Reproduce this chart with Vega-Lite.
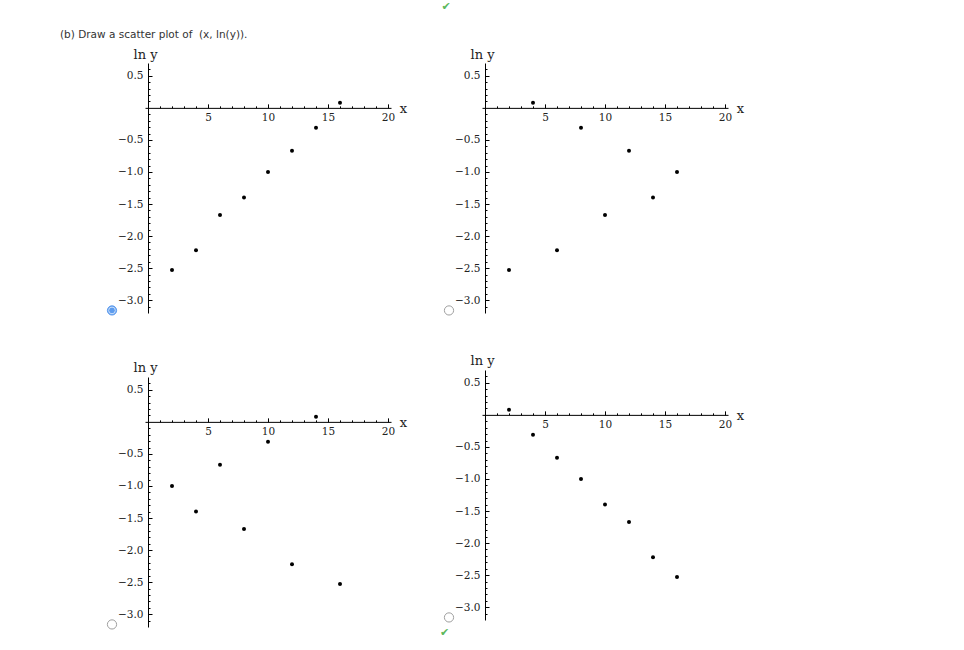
{
  "$schema": "https://vega.github.io/schema/vega-lite/v6.json",
  "background": "white",
  "padding": {"left": 60, "top": 0, "right": 5, "bottom": 5},
  "datasets": {
    "p1": [{"x": 2, "lny": -2.53}, {"x": 4, "lny": -2.22}, {"x": 6, "lny": -1.67}, {"x": 8, "lny": -1.40}, {"x": 10, "lny": -1.00}, {"x": 12, "lny": -0.67}, {"x": 14, "lny": -0.31}, {"x": 16, "lny": 0.08}],
    "p2": [{"x": 2, "lny": -2.53}, {"x": 4, "lny": 0.08}, {"x": 6, "lny": -2.22}, {"x": 8, "lny": -0.31}, {"x": 10, "lny": -1.67}, {"x": 12, "lny": -0.67}, {"x": 14, "lny": -1.40}, {"x": 16, "lny": -1.00}],
    "p3": [{"x": 2, "lny": -1.00}, {"x": 4, "lny": -1.40}, {"x": 6, "lny": -0.67}, {"x": 8, "lny": -1.67}, {"x": 10, "lny": -0.31}, {"x": 12, "lny": -2.22}, {"x": 14, "lny": 0.08}, {"x": 16, "lny": -2.53}],
    "p4": [{"x": 2, "lny": 0.08}, {"x": 4, "lny": -0.31}, {"x": 6, "lny": -0.67}, {"x": 8, "lny": -1.00}, {"x": 10, "lny": -1.40}, {"x": 12, "lny": -1.67}, {"x": 14, "lny": -2.22}, {"x": 16, "lny": -2.53}],
    "one": [{"item": "option"}]
  },
  "columns": 2,
  "bounds": "flush",
  "spacing": {"row": 57, "column": 91},
  "concat": [
    {
      "width": 246, "height": 250,
      "title": {"text": "(b) Draw a scatter plot of\u00a0\u00a0(x, ln(y)).", "anchor": "start", "frame": "group", "dx": -85, "offset": 8, "font": "DejaVu Sans", "fontSize": 10.5, "fontWeight": "normal", "color": "#333"},
      "layer": [
        {
          "data": {"name": "p1"},
          "mark": {"type": "circle", "size": 16, "color": "black", "opacity": 1},
          "encoding": {
            "x": {"field": "x", "type": "quantitative", "scale": {"domain": [-0.25, 20.25], "nice": false, "zero": false},
              "axis": {"orient": "bottom", "offset": -205.13, "tickCount": 100, "labelOverlap": false, "labelFlush": false, "values": [1,2,3,4,5,6,7,8,9,10,11,12,13,14,15,16,17,18,19,20], "labelExpr": "datum.value % 5 === 0 ? datum.value : ''", "tickSize": {"condition": {"test": "datum.value % 5 === 0", "value": -4}, "value": -2}, "labelPadding": 9, "title": "x", "titleAngle": 0, "titleX": 258, "titleY": 1, "titleAlign": "center", "titleBaseline": "middle"}},
            "y": {"field": "lny", "type": "quantitative", "scale": {"domain": [-3.2, 0.7], "nice": false, "zero": false},
              "axis": {"orient": "left", "offset": -3, "tickCount": 100, "labelOverlap": false, "labelFlush": false, "values": [-3.1,-3,-2.9,-2.8,-2.7,-2.6,-2.5,-2.4,-2.3,-2.2,-2.1,-2,-1.9,-1.8,-1.7,-1.6,-1.5,-1.4,-1.3,-1.2,-1.1,-1,-0.9,-0.8,-0.7,-0.6,-0.5,-0.4,-0.3,-0.2,-0.1,0.1,0.2,0.3,0.4,0.5,0.6], "labelExpr": "abs(datum.value*2 - round(datum.value*2)) < 0.001 ? (datum.value < 0 ? '−' : '') + format(abs(datum.value), '.1f') : ''", "tickSize": {"condition": {"test": "abs(datum.value*2 - round(datum.value*2)) < 0.001", "value": -4}, "value": -2}, "labelPadding": 9, "title": "ln y", "titleAngle": 0, "titleX": -3, "titleY": -5, "titleAlign": "center", "titleBaseline": "alphabetic"}}
          }
        },
        {
          "data": {"name": "one"},
          "mark": {"type": "point", "shape": "circle", "size": 85, "filled": true, "fill": "#1a73e8", "stroke": "#1a73e8", "strokeWidth": 1},
          "encoding": {"x": {"datum": -3}, "y": {"datum": -3.16}}
        },
        {
          "data": {"name": "one"},
          "mark": {"type": "point", "shape": "circle", "size": 45, "filled": false, "stroke": "white", "strokeWidth": 1},
          "encoding": {"x": {"datum": -3}, "y": {"datum": -3.16}}
        }
      ]
    },
    {
      "width": 246, "height": 250,
      "layer": [
        {
          "data": {"name": "p2"},
          "mark": {"type": "circle", "size": 16, "color": "black", "opacity": 1},
          "encoding": {
            "x": {"field": "x", "type": "quantitative", "scale": {"domain": [-0.25, 20.25], "nice": false, "zero": false},
              "axis": {"orient": "bottom", "offset": -205.13, "tickCount": 100, "labelOverlap": false, "labelFlush": false, "values": [1,2,3,4,5,6,7,8,9,10,11,12,13,14,15,16,17,18,19,20], "labelExpr": "datum.value % 5 === 0 ? datum.value : ''", "tickSize": {"condition": {"test": "datum.value % 5 === 0", "value": -4}, "value": -2}, "labelPadding": 9, "title": "x", "titleAngle": 0, "titleX": 258, "titleY": 1, "titleAlign": "center", "titleBaseline": "middle"}},
            "y": {"field": "lny", "type": "quantitative", "scale": {"domain": [-3.2, 0.7], "nice": false, "zero": false},
              "axis": {"orient": "left", "offset": -3, "tickCount": 100, "labelOverlap": false, "labelFlush": false, "values": [-3.1,-3,-2.9,-2.8,-2.7,-2.6,-2.5,-2.4,-2.3,-2.2,-2.1,-2,-1.9,-1.8,-1.7,-1.6,-1.5,-1.4,-1.3,-1.2,-1.1,-1,-0.9,-0.8,-0.7,-0.6,-0.5,-0.4,-0.3,-0.2,-0.1,0.1,0.2,0.3,0.4,0.5,0.6], "labelExpr": "abs(datum.value*2 - round(datum.value*2)) < 0.001 ? (datum.value < 0 ? '−' : '') + format(abs(datum.value), '.1f') : ''", "tickSize": {"condition": {"test": "abs(datum.value*2 - round(datum.value*2)) < 0.001", "value": -4}, "value": -2}, "labelPadding": 9, "title": "ln y", "titleAngle": 0, "titleX": -3, "titleY": -5, "titleAlign": "center", "titleBaseline": "alphabetic"}}
          }
        },
        {
          "data": {"name": "one"},
          "mark": {"type": "point", "shape": "circle", "size": 85, "filled": false, "fill": "white", "stroke": "#777", "strokeWidth": 1},
          "encoding": {"x": {"datum": -3}, "y": {"datum": -3.16}}
        },
        {
          "data": {"name": "one"},
          "mark": {"type": "text", "text": "✔", "font": "DejaVu Sans", "fontSize": 11, "color": "#5cb85c", "baseline": "middle", "align": "center"},
          "encoding": {"x": {"datum": -3.25}, "y": {"datum": 1.58}}
        }
      ]
    },
    {
      "width": 246, "height": 257,
      "layer": [
        {
          "data": {"name": "p3"},
          "mark": {"type": "circle", "size": 16, "color": "black", "opacity": 1},
          "encoding": {
            "x": {"field": "x", "type": "quantitative", "scale": {"domain": [-0.25, 20.25], "nice": false, "zero": false},
              "axis": {"orient": "bottom", "offset": -205.13, "tickCount": 100, "labelOverlap": false, "labelFlush": false, "values": [1,2,3,4,5,6,7,8,9,10,11,12,13,14,15,16,17,18,19,20], "labelExpr": "datum.value % 5 === 0 ? datum.value : ''", "tickSize": {"condition": {"test": "datum.value % 5 === 0", "value": -4}, "value": -2}, "labelPadding": 9, "title": "x", "titleAngle": 0, "titleX": 258, "titleY": 1, "titleAlign": "center", "titleBaseline": "middle"}},
            "y": {"field": "lny", "type": "quantitative", "scale": {"domain": [-3.2, 0.7], "nice": false, "zero": false, "range": [257, 7]},
              "axis": {"orient": "left", "offset": -3, "tickCount": 100, "labelOverlap": false, "labelFlush": false, "values": [-3.1,-3,-2.9,-2.8,-2.7,-2.6,-2.5,-2.4,-2.3,-2.2,-2.1,-2,-1.9,-1.8,-1.7,-1.6,-1.5,-1.4,-1.3,-1.2,-1.1,-1,-0.9,-0.8,-0.7,-0.6,-0.5,-0.4,-0.3,-0.2,-0.1,0.1,0.2,0.3,0.4,0.5,0.6], "labelExpr": "abs(datum.value*2 - round(datum.value*2)) < 0.001 ? (datum.value < 0 ? '−' : '') + format(abs(datum.value), '.1f') : ''", "tickSize": {"condition": {"test": "abs(datum.value*2 - round(datum.value*2)) < 0.001", "value": -4}, "value": -2}, "labelPadding": 9, "title": "ln y", "titleAngle": 0, "titleX": -3, "titleY": 1, "titleAlign": "center", "titleBaseline": "alphabetic"}}
          }
        },
        {
          "data": {"name": "one"},
          "mark": {"type": "point", "shape": "circle", "size": 85, "filled": false, "fill": "white", "stroke": "#777", "strokeWidth": 1},
          "encoding": {"x": {"datum": -3}, "y": {"datum": -3.16}}
        }
      ]
    },
    {
      "width": 246, "height": 257,
      "layer": [
        {
          "data": {"name": "p4"},
          "mark": {"type": "circle", "size": 16, "color": "black", "opacity": 1},
          "encoding": {
            "x": {"field": "x", "type": "quantitative", "scale": {"domain": [-0.25, 20.25], "nice": false, "zero": false},
              "axis": {"orient": "bottom", "offset": -212.13, "tickCount": 100, "labelOverlap": false, "labelFlush": false, "values": [1,2,3,4,5,6,7,8,9,10,11,12,13,14,15,16,17,18,19,20], "labelExpr": "datum.value % 5 === 0 ? datum.value : ''", "tickSize": {"condition": {"test": "datum.value % 5 === 0", "value": -4}, "value": -2}, "labelPadding": 9, "title": "x", "titleAngle": 0, "titleX": 258, "titleY": 1, "titleAlign": "center", "titleBaseline": "middle"}},
            "y": {"field": "lny", "type": "quantitative", "scale": {"domain": [-3.2, 0.7], "nice": false, "zero": false, "range": [250, 0]},
              "axis": {"orient": "left", "offset": -3, "tickCount": 100, "labelOverlap": false, "labelFlush": false, "values": [-3.1,-3,-2.9,-2.8,-2.7,-2.6,-2.5,-2.4,-2.3,-2.2,-2.1,-2,-1.9,-1.8,-1.7,-1.6,-1.5,-1.4,-1.3,-1.2,-1.1,-1,-0.9,-0.8,-0.7,-0.6,-0.5,-0.4,-0.3,-0.2,-0.1,0.1,0.2,0.3,0.4,0.5,0.6], "labelExpr": "abs(datum.value*2 - round(datum.value*2)) < 0.001 ? (datum.value < 0 ? '−' : '') + format(abs(datum.value), '.1f') : ''", "tickSize": {"condition": {"test": "abs(datum.value*2 - round(datum.value*2)) < 0.001", "value": -4}, "value": -2}, "labelPadding": 9, "title": "ln y", "titleAngle": 0, "titleX": -3, "titleY": -6, "titleAlign": "center", "titleBaseline": "alphabetic"}}
          }
        },
        {
          "data": {"name": "one"},
          "mark": {"type": "point", "shape": "circle", "size": 85, "filled": false, "fill": "white", "stroke": "#777", "strokeWidth": 1},
          "encoding": {"x": {"datum": -3}, "y": {"datum": -3.16}}
        },
        {
          "data": {"name": "one"},
          "mark": {"type": "text", "text": "✔", "font": "DejaVu Sans", "fontSize": 11, "color": "#5cb85c", "baseline": "middle", "align": "center"},
          "encoding": {"x": {"datum": -3.375}, "y": {"datum": -3.4}}
        }
      ]
    }
  ],
  "config": {
    "view": {"stroke": null},
    "axis": {"grid": false, "domainColor": "black", "domainWidth": 1, "tickColor": "black", "tickWidth": 1, "labelFont": "DejaVu Serif", "labelFontSize": 10.5, "labelColor": "#222", "titleFont": "DejaVu Serif", "titleFontSize": 13, "titleFontWeight": "normal", "titleColor": "#222", "labelOverlap": false, "labelFlush": false}
  }
}
